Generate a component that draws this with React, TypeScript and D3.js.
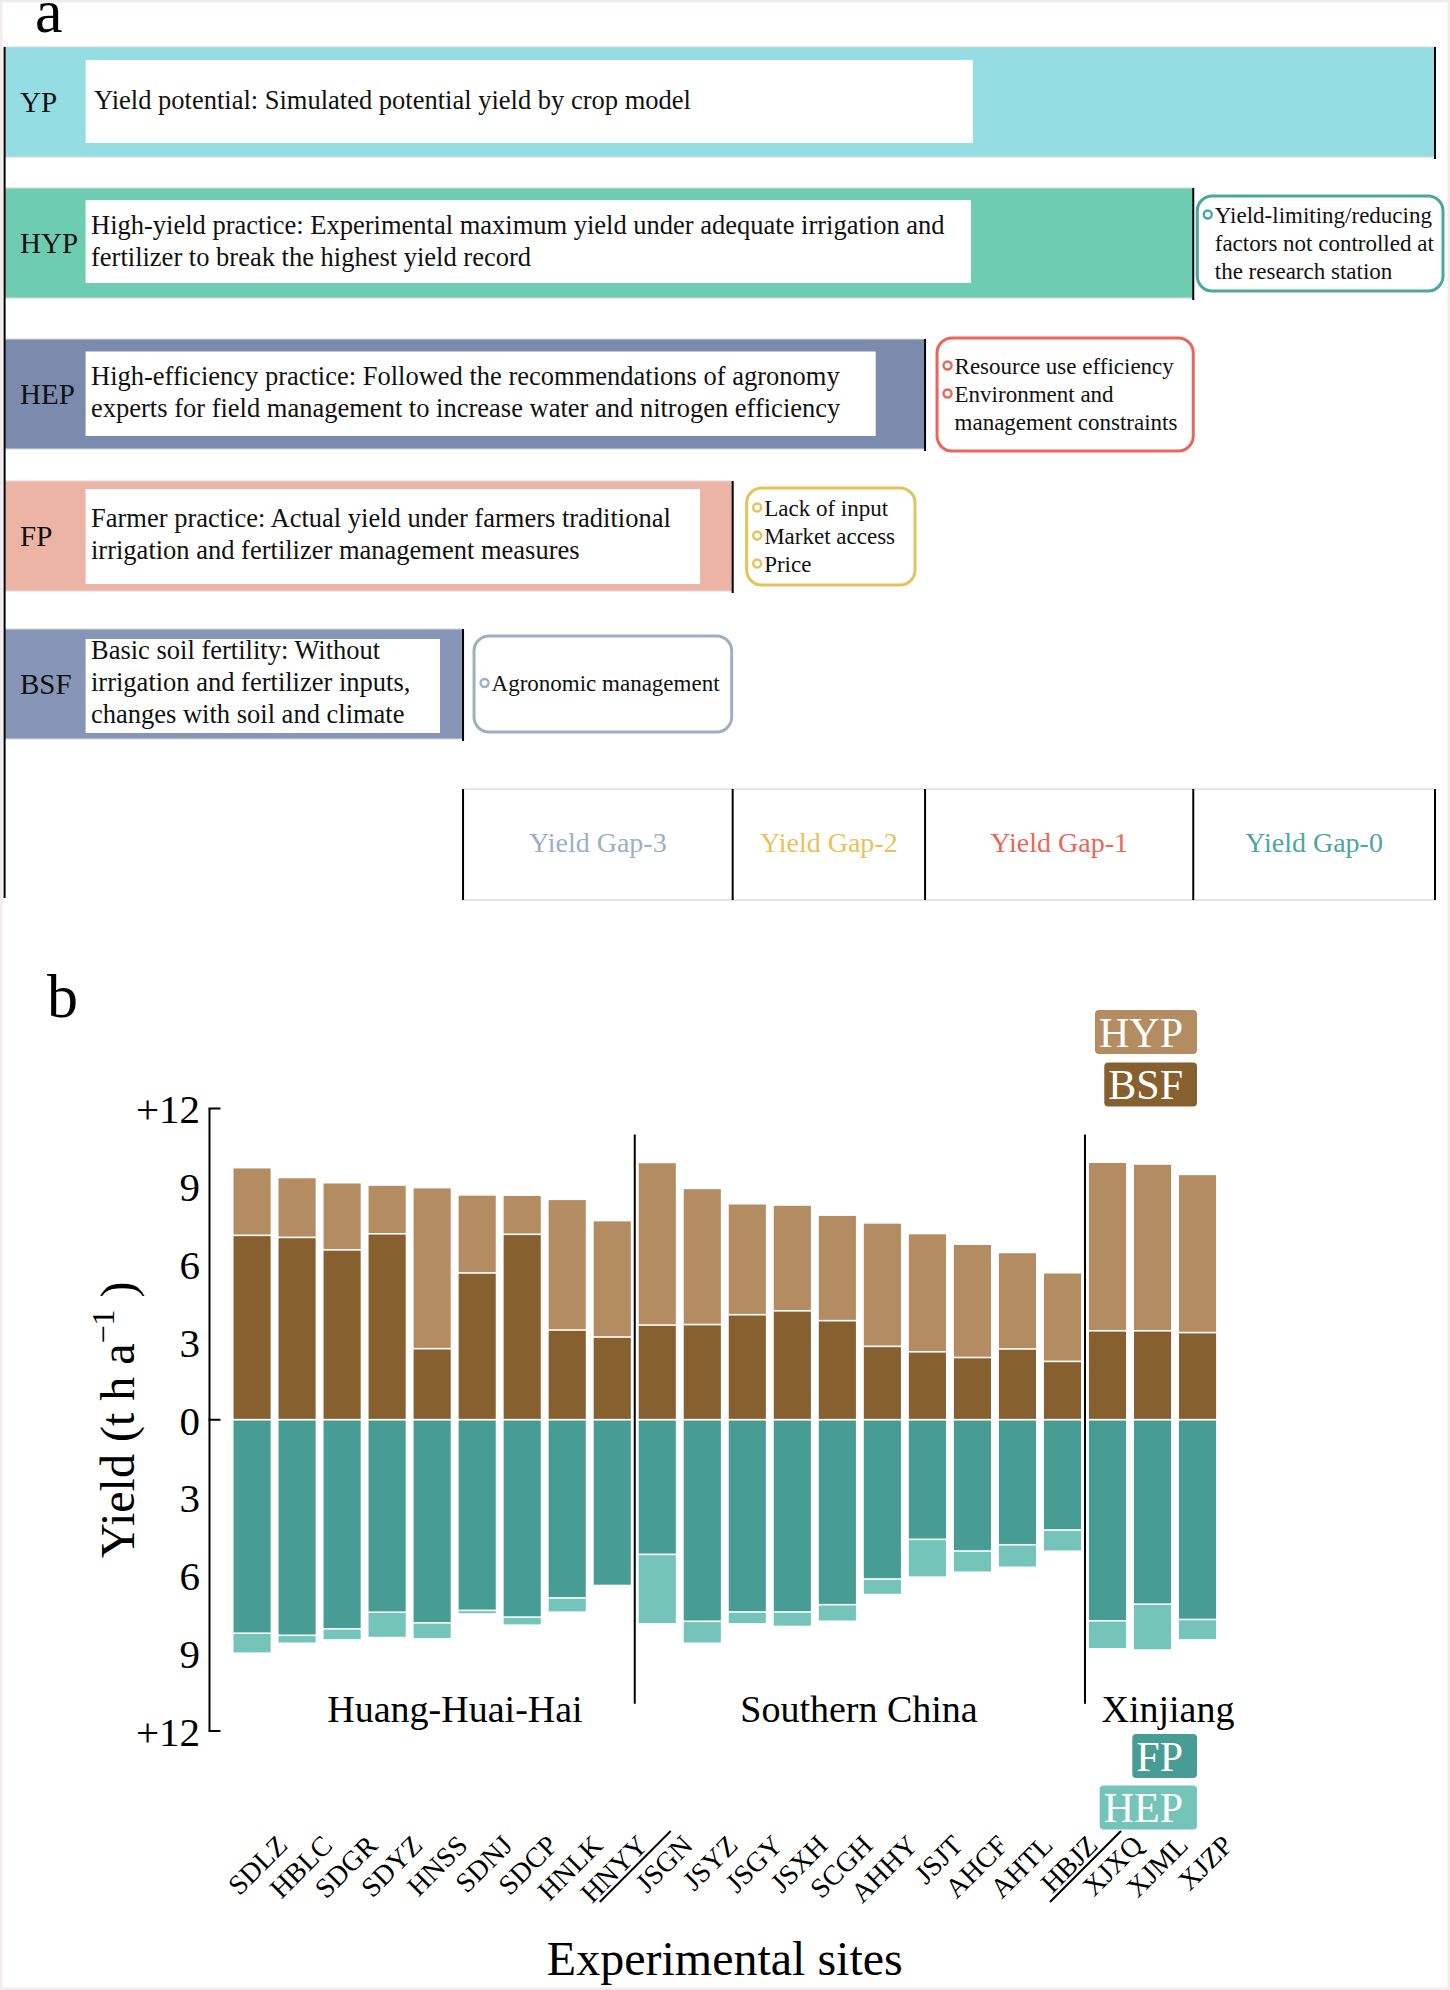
import { useRef, useEffect } from 'react'
import * as d3 from 'd3'

const W = 1450
const H = 1990
const FONT = '"Times New Roman", "Liberation Serif", Times, serif'

// ---------- panel a: yield levels ----------
const levels = ['YP', 'HYP', 'HEP', 'FP', 'BSF']
const levelReach = [1, 0.831, 0.6435, 0.509, 0.3205]
const levelColors = ['#93DDE3', '#6ECDB1', '#7A8BAE', '#ECB4A4', '#8795B6']
const levelText = [
  ['Yield potential: Simulated potential yield by crop model'],
  ['High-yield practice: Experimental maximum yield under adequate irrigation and', 'fertilizer to break the highest yield record'],
  ['High-efficiency practice: Followed the recommendations of agronomy', 'experts for field management to increase water and nitrogen efficiency'],
  ['Farmer practice: Actual yield under farmers traditional', 'irrigation and fertilizer management measures'],
  ['Basic soil fertility: Without', 'irrigation and fertilizer inputs,', 'changes with soil and climate'],
]
const boxReach = [0.677, 0.6756, 0.609, 0.4862, 0.3044]
const rowTops = [47, 188, 339, 481, 629]
const ROW_H = 110
const boxInset = [[13, 14], [12, 15], [12.5, 13], [8, 7], [10, 6]]

const gapNames = ['Yield Gap-3', 'Yield Gap-2', 'Yield Gap-1', 'Yield Gap-0']
const gapColors = ['#9DAFC3', '#E4C35A', '#E8675A', '#4BA6A0']
const gapFactors = [
  ['Agronomic management'],
  ['Lack of input', 'Market access', 'Price'],
  ['Resource use efficiency', 'Environment and', 'management constraints'],
  ['Yield-limiting/reducing', 'factors not controlled at', 'the research station'],
]
const gapBullets = [[true], [true, true, true], [true, true, false], [true, false, false]]
const factorPadX = [[11, 1], [14, 10], [12, 0], [4, -8]]
const factorPadY = [[7, 7], [7, 6], [-1, -2], [8, 7]]

// ---------- panel b: yields per site ----------
const sites = ['SDLZ', 'HBLC', 'SDGR', 'SDYZ', 'HNSS', 'SDNJ', 'SDCP', 'HNLK', 'HNYY',
  'JSGN', 'JSYZ', 'JSGY', 'JSXH', 'SCGH', 'AHHY', 'JSJT', 'AHCF', 'AHTL', 'HBJZ',
  'XJXQ', 'XJML', 'XJZP']
const hyp = [9.72, 9.34, 9.14, 9.05, 8.95, 8.67, 8.66, 8.50, 7.68, 9.92, 8.92, 8.33, 8.28, 7.89, 7.59, 7.18, 6.77, 6.45, 5.67, 9.93, 9.86, 9.46]
const bsf = [7.11, 7.03, 6.55, 7.17, 2.74, 5.66, 7.15, 3.46, 3.19, 3.65, 3.67, 4.05, 4.20, 3.82, 2.83, 2.62, 2.40, 2.73, 2.25, 3.43, 3.43, 3.36]
const fp = [8.23, 8.31, 8.06, 7.42, 7.83, 7.35, 7.61, 6.87, 6.39, 5.19, 7.77, 7.41, 7.41, 7.13, 6.14, 4.61, 5.06, 4.82, 4.25, 7.75, 7.11, 7.70]
const hep = [9.00, 8.62, 8.49, 8.40, 8.45, 7.49, 7.92, 7.42, 6.39, 7.87, 8.62, 7.87, 7.97, 7.77, 6.74, 6.07, 5.88, 5.69, 5.07, 8.83, 8.88, 8.49]
const regions = ['Huang-Huai-Hai', 'Southern China', 'Xinjiang']
const regionSizes = [9, 10, 3]
const regionLabelX = [455, 859, 1168]
const yTicks = [12, 9, 6, 3, 0, -3, -6, -9, -12]
const legendKeys = ['HYP', 'BSF', 'FP', 'HEP']
const legendColors = ['#B48C62', '#86602E', '#479C93', '#74C4BA']

const App = () => {
  const svgRef = useRef<SVGSVGElement>(null)

  useEffect(() => {
    if (!svgRef.current) return
    const svg = d3.select(svgRef.current)
    svg.selectAll('*').remove()
    svg.attr('width', W).attr('height', H).style('font-family', FONT)

    svg.append('rect').attr('width', W).attr('height', H).attr('fill', '#fff')
    svg.append('rect').attr('x', 1).attr('y', 1).attr('width', W - 2).attr('height', H - 2)
      .attr('fill', 'none').attr('stroke', '#f1ebee').attr('stroke-width', 3)

    // ================= panel a =================
    const xA = d3.scaleLinear().domain([0, 1]).range([4.6, 1435])
    const gA = svg.append('g')

    gA.append('text').attr('x', 35).attr('y', 32).attr('font-size', 62).text('a')

    levels.forEach((lv, i) => {
      const top = rowTops[i]
      const mid = top + ROW_H / 2
      const right = xA(levelReach[i])
      gA.append('rect')
        .attr('x', xA(0)).attr('y', top)
        .attr('width', right - xA(0)).attr('height', ROW_H)
        .attr('fill', levelColors[i]).attr('stroke', '#d9d9d9').attr('stroke-width', 1)
      gA.append('rect')
        .attr('x', xA(0) + 81).attr('y', top + boxInset[i][0])
        .attr('width', xA(boxReach[i]) - xA(0) - 81)
        .attr('height', ROW_H - boxInset[i][0] - boxInset[i][1])
        .attr('fill', '#fff')
      gA.append('text').attr('x', 20).attr('y', mid + 9.5)
        .attr('font-size', 29).attr('fill', '#111').text(lv)
      const lines = levelText[i]
      lines.forEach((ln, j) => {
        gA.append('text')
          .attr('x', i === 0 ? 94 : 91)
          .attr('y', mid + 7 + (j - (lines.length - 1) / 2) * 31.7)
          .attr('font-size', 26.5).attr('fill', '#111').text(ln)
      })
      gA.append('line')
        .attr('x1', right).attr('x2', right).attr('y1', top).attr('y2', top + ROW_H + 2)
        .attr('stroke', '#000').attr('stroke-width', 2)
    })

    // left border
    gA.append('line').attr('x1', xA(0)).attr('x2', xA(0)).attr('y1', 47).attr('y2', 898)
      .attr('stroke', '#000').attr('stroke-width', 2)

    // yield-gap row
    const gapTop = 789
    const gapBottom = 900
    const edges = [4, 3, 2, 1, 0].map(k => xA(levelReach[k]))
    ;[gapTop, gapBottom].forEach(yy => {
      gA.append('line').attr('x1', edges[0]).attr('x2', edges[4]).attr('y1', yy).attr('y2', yy)
        .attr('stroke', '#dcdcdc').attr('stroke-width', 1.5)
    })
    edges.forEach(ex => {
      gA.append('line').attr('x1', ex).attr('x2', ex).attr('y1', gapTop).attr('y2', gapBottom)
        .attr('stroke', '#000').attr('stroke-width', 2)
    })
    gapNames.forEach((nm, k) => {
      gA.append('text')
        .attr('x', (edges[k] + edges[k + 1]) / 2).attr('y', (gapTop + gapBottom) / 2 + 7.5)
        .attr('text-anchor', 'middle').attr('font-size', 28).attr('fill', gapColors[k]).text(nm)
    })

    // factor boxes
    gapFactors.forEach((items, k) => {
      const row = 4 - k
      const x0 = edges[k] + factorPadX[k][0]
      const x1 = edges[k + 1] - factorPadX[k][1]
      const y0 = rowTops[row] + factorPadY[k][0]
      const y1 = rowTops[row] + ROW_H - factorPadY[k][1]
      gA.append('rect')
        .attr('x', x0).attr('y', y0).attr('width', x1 - x0).attr('height', y1 - y0)
        .attr('rx', 15).attr('fill', '#fff')
        .attr('stroke', gapColors[k]).attr('stroke-width', 3)
      const cy = (y0 + y1) / 2
      items.forEach((it, j) => {
        const base = cy + 7 + (j - (items.length - 1) / 2) * 28
        if (gapBullets[k][j]) {
          gA.append('circle').attr('cx', x0 + 10.5).attr('cy', base - 8).attr('r', 4)
            .attr('fill', '#fff').attr('stroke', gapColors[k]).attr('stroke-width', 2.4)
        }
        gA.append('text').attr('x', x0 + 17.5).attr('y', base)
          .attr('font-size', 23).attr('fill', '#111').text(it)
      })
    })

    // ================= panel b =================
    const gB = svg.append('g')
    gB.append('text').attr('x', 47).attr('y', 1017).attr('font-size', 62).text('b')

    const x = d3.scaleBand().domain(sites).range([232.7, 1216.9]).paddingInner(0.14)
    const y = d3.scaleLinear().domain([-12, 12]).range([1731, 1108.5])
    const bw = x.bandwidth()

    const rows = sites.map((s, i) => ({ site: s, hyp: hyp[i], bsf: bsf[i], fp: fp[i], hep: hep[i] }))
    type Row = typeof rows[0]
    const drawBars = (cls: string, up: boolean, val: (d: Row) => number, color: string) => {
      gB.selectAll(`.${cls}`)
        .data(rows)
        .join('rect')
        .attr('class', cls)
        .attr('x', d => x(d.site) as number)
        .attr('width', bw)
        .attr('y', d => (up ? y(val(d)) : y(0)))
        .attr('height', d => Math.abs(y(0) - y(up ? val(d) : -val(d))))
        .attr('fill', color)
        .attr('stroke', '#fff')
        .attr('stroke-width', 1.6)
    }
    drawBars('bar-hyp', true, d => d.hyp, legendColors[0])
    drawBars('bar-bsf', true, d => d.bsf, legendColors[1])
    drawBars('bar-hep', false, d => d.hep, legendColors[3])
    drawBars('bar-fp', false, d => d.fp, legendColors[2])

    // y axis
    const axX = 209.5
    gB.append('line').attr('x1', axX).attr('x2', axX).attr('y1', y(12)).attr('y2', y(-12))
      .attr('stroke', '#000').attr('stroke-width', 2)
    ;[12, 0, -12].forEach(t => {
      gB.append('line').attr('x1', axX - 1).attr('x2', axX + 11).attr('y1', y(t)).attr('y2', y(t))
        .attr('stroke', '#000').attr('stroke-width', 2)
    })
    yTicks.forEach(t => {
      gB.append('text')
        .attr('x', 200).attr('y', y(t)).attr('dy', '0.36em')
        .attr('text-anchor', 'end').attr('font-size', 41).attr('fill', '#000')
        .text(Math.abs(t) === 12 ? '+12' : String(Math.abs(t)))
    })

    const title = gB.append('text')
      .attr('transform', `translate(134,${y(0)}) rotate(-90)`)
      .attr('text-anchor', 'middle').attr('font-size', 48).attr('fill', '#000')
    title.append('tspan').text('Yield (t h a')
    title.append('tspan').attr('font-size', 32).attr('dy', -20).text('\u22121')
    title.append('tspan').attr('dy', 20).text(' )')

    // region dividers
    let acc = 0
    const dividers: number[] = []
    regionSizes.forEach((n, r) => {
      acc += n
      if (r < regionSizes.length - 1) {
        const a = sites[acc - 1]
        const b = sites[acc]
        dividers.push(((x(a) as number) + bw + (x(b) as number)) / 2)
      }
    })
    dividers.forEach(dx => {
      gB.append('line').attr('x1', dx).attr('x2', dx).attr('y1', y(11)).attr('y2', y(-10.95))
        .attr('stroke', '#000').attr('stroke-width', 2)
      gB.append('line').attr('x1', dx - 35).attr('x2', dx + 36).attr('y1', 1902).attr('y2', 1831)
        .attr('stroke', '#000').attr('stroke-width', 2)
    })

    regions.forEach((rg, r) => {
      gB.append('text').attr('x', regionLabelX[r]).attr('y', 1722)
        .attr('text-anchor', 'middle').attr('font-size', 38).attr('fill', '#000').text(rg)
    })

    // site labels
    gB.selectAll('.site')
      .data(sites)
      .join('text')
      .attr('class', 'site')
      .attr('transform', d => `translate(${(x(d) as number) + bw / 2 + 37},1847) rotate(-45)`)
      .attr('text-anchor', 'end').attr('font-size', 28).attr('fill', '#000')
      .text(d => d)

    gB.append('text').attr('x', (232.7 + 1216.9) / 2).attr('y', 1975)
      .attr('text-anchor', 'middle').attr('font-size', 48).attr('fill', '#000')
      .text('Experimental sites')

    // legend tags
    const legendTops = [1010, 1062.5, 1734, 1785.5]
    legendKeys.forEach((k, i) => {
      const t = gB.append('text').attr('x', 1183).attr('y', legendTops[i] + 36.5)
        .attr('text-anchor', 'end').attr('font-size', 42).attr('fill', '#fff').text(k)
      const tw = (t.node() as SVGTextElement).getComputedTextLength()
      gB.insert('rect', () => t.node())
        .attr('x', 1183 - tw - 4).attr('y', legendTops[i])
        .attr('width', tw + 18).attr('height', 44)
        .attr('rx', 4).attr('fill', legendColors[i])
    })
  }, [])

  return (
    <div style={{ position: 'absolute', left: 0, top: 0 }}>
      <svg ref={svgRef} style={{ display: 'block' }} />
    </div>
  )
}

export default App
